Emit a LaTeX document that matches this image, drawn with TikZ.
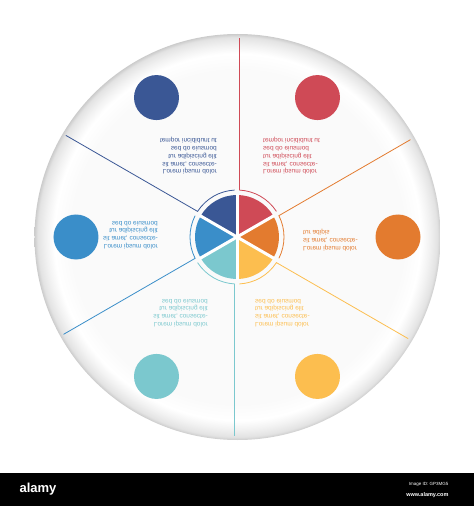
\documentclass[tikz,border=0pt]{standalone}
\usepackage{fontspec}
\setmainfont{Liberation Sans}

\definecolor{cnavy}{HTML}{3A5795}
\definecolor{cred}{HTML}{CF4A56}
\definecolor{corange}{HTML}{E37B2F}
\definecolor{cyellow}{HTML}{FCBE4F}
\definecolor{cteal}{HTML}{7BC8CE}
\definecolor{cblue}{HTML}{3A8EC9}

\pgfdeclareradialshading{plate}{\pgfpoint{0bp}{0bp}}{color(0bp)=(gray!4); color(20.5bp)=(gray!4); color(22.6bp)=(white); color(23.6bp)=(gray!10); color(24.6bp)=(gray!22); color(25bp)=(gray!40); color(50bp)=(gray!40)}

\tikzset{
  dot/.style={circle,minimum size=45pt,inner sep=0pt},
  lorem/.style={font=\fontsize{6.5}{7.7}\selectfont,yscale=-1,inner sep=0pt},
}

\begin{document}
\begin{tikzpicture}[x=1pt,y=1pt]

  \useasboundingbox (-237,-269) rectangle (237,237);
  \fill[white] (-237,-269) rectangle (237,237);
  \shade[shading=plate] (0.5,0) circle (203);

  % lines and ring
  \foreach \a/\c in {30/corange,90/cred,150/cnavy,210/cblue,270/cteal,330/cyellow}
  {
    \draw[\c,line width=0.8pt] (\a-0.7:199) -- (\a-3:47)
      arc[start angle=\a-3,end angle=\a-57,radius=47];
  }

  % pie
  \foreach \a/\c in {0/corange,60/cred,120/cnavy,180/cblue,240/cteal,300/cyellow}
  {
    \fill[\c] (0,0) -- (\a-30:42) arc[start angle=\a-30,end angle=\a+30,radius=42] -- cycle;
  }
  \foreach \a in {30,90,150}
  {
    \draw[white,line width=3pt] (\a:43) -- (\a+180:43);
  }

  % dots
  \foreach \a/\c/\n in {0/corange/dotE,60/cred/dotNE,120/cnavy/dotNW,180/cblue/dotW,240/cteal/dotSW,300/cyellow/dotSE}
  {
    \node[dot,fill=\c] (\n) at (\a:161) {};
  }

  % texts
  \node[lorem,text=cnavy,align=right,anchor=east] (txtNW) at (-20,81)
    {Lorem ipsum dolor\\sit amet, consecte-\\tur adipiscing elit\\sed do eiusmod\\tempor incididunt ut};
  \node[lorem,text=cred,align=left,anchor=west] (txtNE) at (26,81)
    {Lorem ipsum dolor\\sit amet, consecte-\\tur adipiscing elit\\sed do eiusmod\\tempor incididunt ut};
  \node[lorem,text=cblue,align=right,anchor=east] (txtW) at (-79,2)
    {Lorem ipsum dolor\\sit amet, consecte-\\tur adipiscing elit\\sed do eiusmod};
  \node[lorem,text=corange,align=left,anchor=west] (txtE) at (66,-3)
    {Lorem ipsum dolor\\sit amet, consecte-\\tur adipis};
  \node[lorem,text=cteal,align=right,anchor=east] (txtSW) at (-29,-76)
    {Lorem ipsum dolor\\sit amet, consecte-\\tur adipiscing elit\\sed do eiusmod};
  \node[lorem,text=cyellow,align=left,anchor=west] (txtSE) at (18,-76)
    {Lorem ipsum dolor\\sit amet, consecte-\\tur adipiscing elit\\sed do eiusmod};

  % bar
  \fill[black] (-237,-236) rectangle (237,-269);
  \node[text=white,font=\bfseries\fontsize{13}{13}\selectfont] (logo) at (-199,-252) {alamy};
  \node[text=white,font=\fontsize{4.5}{5}\selectfont,anchor=east] (imgid) at (215,-247) {Image ID: GP3MG5};
  \node[text=white,font=\bfseries\fontsize{5.5}{6}\selectfont,anchor=east] (site) at (215,-258) {www.alamy.com};

\end{tikzpicture}
\end{document}
